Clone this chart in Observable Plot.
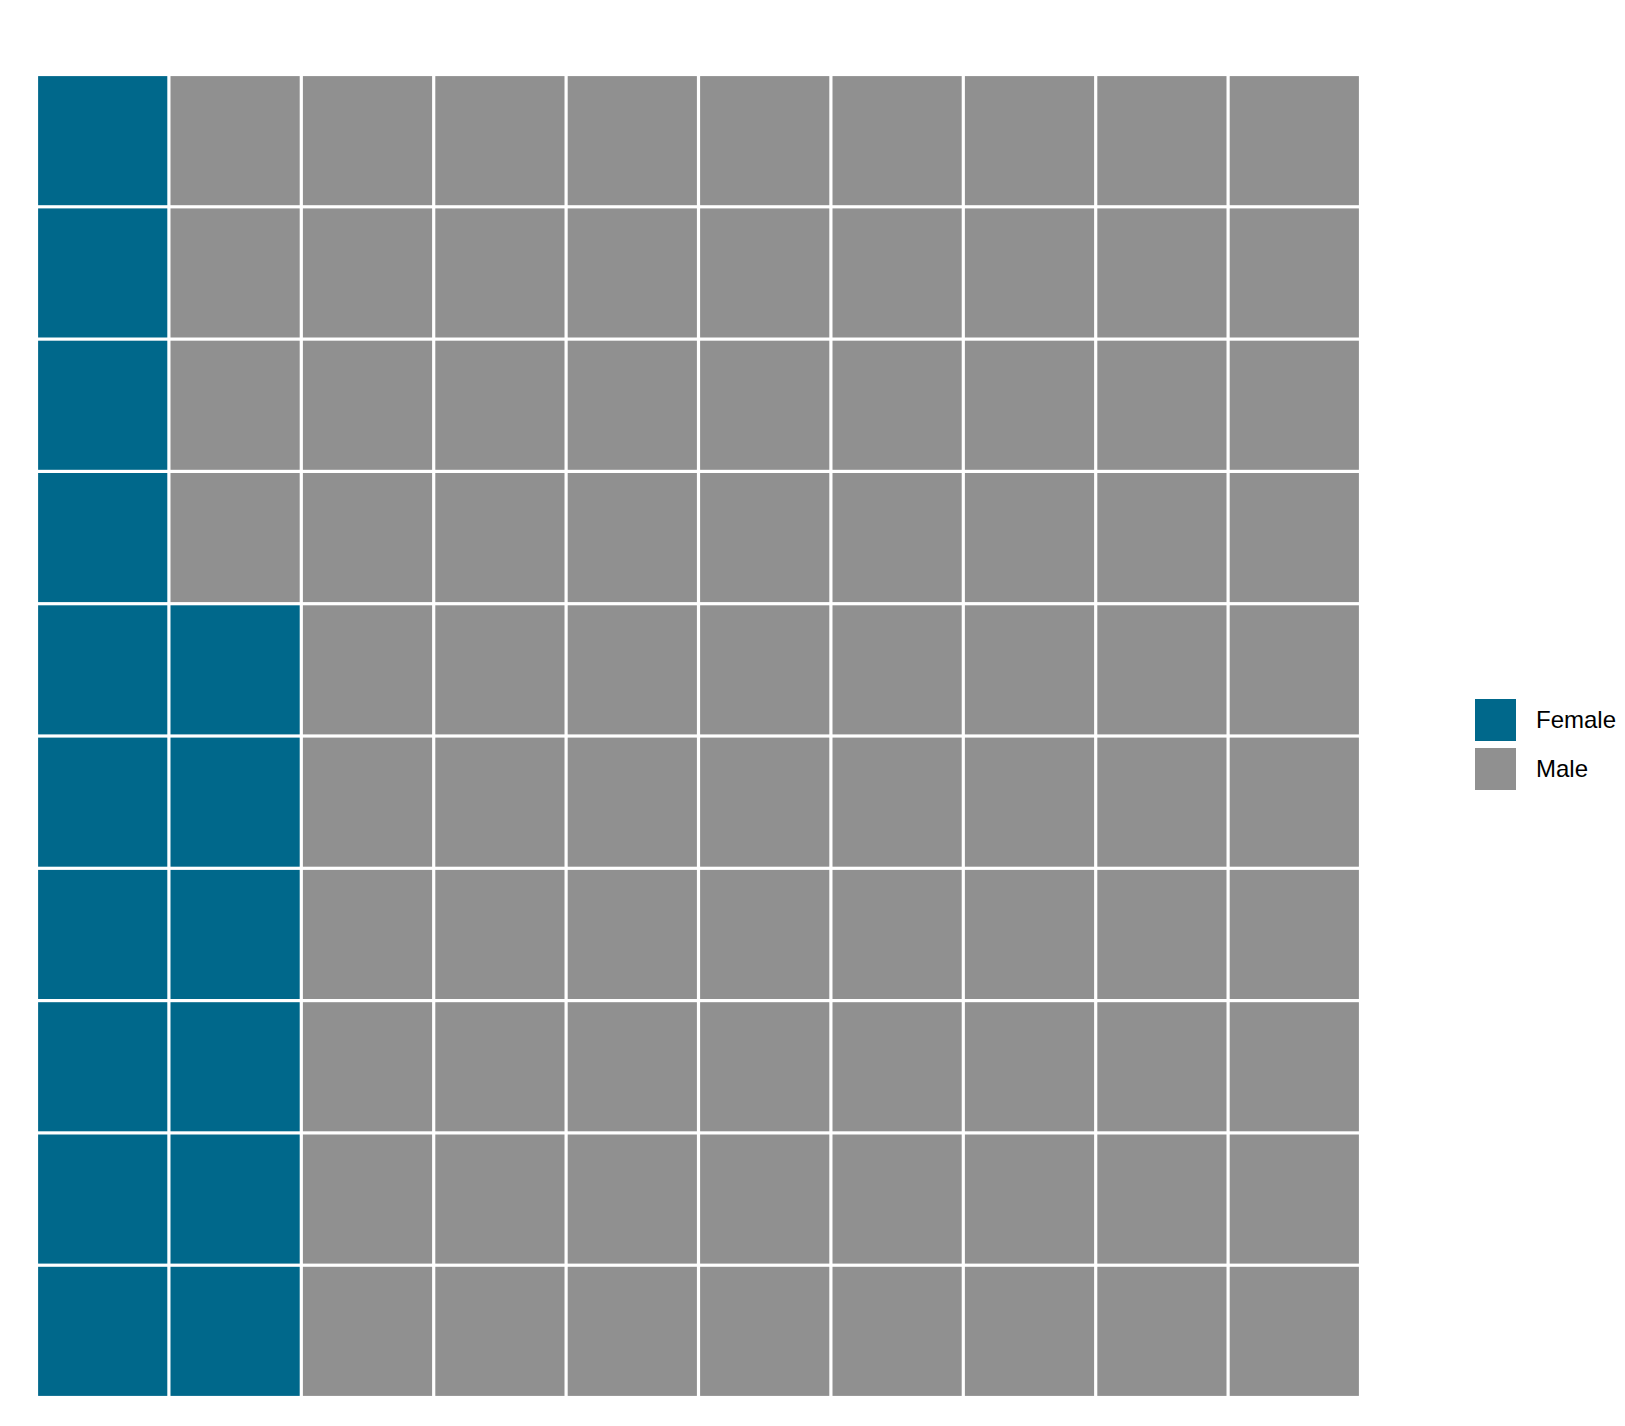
<!DOCTYPE html>
<html>
<head>
<meta charset="utf-8">
<script src="https://cdn.jsdelivr.net/npm/d3@7"></script>
<script src="https://cdn.jsdelivr.net/npm/@observablehq/plot@0.6"></script>
<style>
  html, body { margin: 0; padding: 0; background: #fff; }
  #wrap { position: relative; width: 1625px; height: 1426px; font-family: "Liberation Sans", Arial, sans-serif; }
  #legend { position: absolute; left: 1475px; top: 699px; }
  .item { display: flex; align-items: center; height: 42px; margin-bottom: 7px; }
  .sw { width: 41px; height: 42px; margin-right: 20px; }
  .lab { font-size: 24px; color: #000; }
</style>
</head>
<body>
<div id="wrap"></div>
<script>
const categories = ["Female", "Male"];
const counts = [16, 84];
const colors = ["#00688B", "#909090"];
const nRows = 10;
const nCols = 10;

// Waffle cells: fill column by column, from the bottom row upward
const cells = [];
let idx = 0;
categories.forEach((cat, k) => {
  for (let j = 0; j < counts[k]; j++, idx++) {
    cells.push({ col: Math.floor(idx / nRows), row: idx % nRows, category: cat });
  }
});

const chart = Plot.plot({
  width: 1625,
  height: 1426,
  marginLeft: 36.5,
  marginRight: 264.5,
  marginTop: 74.5,
  marginBottom: 28.5,
  x: { domain: d3.range(nCols), padding: 0, round: false, axis: null },
  y: { domain: d3.range(nRows).reverse(), padding: 0, round: false, axis: null },
  color: { domain: categories, range: colors },
  marks: [
    Plot.cell(cells, { x: "col", y: "row", fill: "category", inset: 1.6 })
  ]
});

const wrap = document.getElementById("wrap");
wrap.appendChild(chart);

const legend = document.createElement("div");
legend.id = "legend";
categories.forEach((c, i) => {
  const item = document.createElement("div");
  item.className = "item";
  const sw = document.createElement("div");
  sw.className = "sw";
  sw.style.background = colors[i];
  const lab = document.createElement("span");
  lab.className = "lab";
  lab.textContent = c;
  item.appendChild(sw);
  item.appendChild(lab);
  legend.appendChild(item);
});
wrap.appendChild(legend);
</script>
</body>
</html>
